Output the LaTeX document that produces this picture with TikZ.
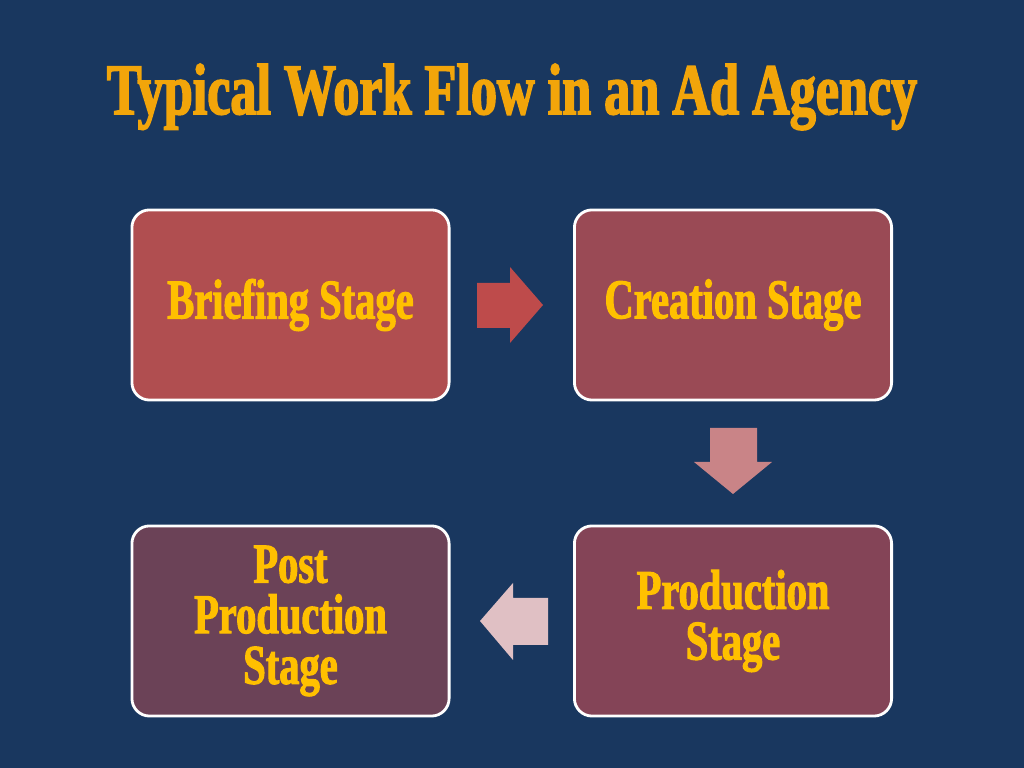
\documentclass[tikz,border=0pt]{standalone}
\usepackage{fontspec}
\newfontfamily\headfont[FakeStretch=0.72,FakeBold=2.2]{Liberation Serif}
\newfontfamily\stagefont[FakeStretch=0.72,FakeBold=1.8]{Liberation Serif}
\definecolor{bgblue}{HTML}{19375F}
\definecolor{titleorange}{HTML}{F2A50A}
\definecolor{textyellow}{HTML}{FFC000}
\definecolor{briefred}{HTML}{B04E50}
\definecolor{createred}{HTML}{9A4A55}
\definecolor{prodred}{HTML}{844457}
\definecolor{postred}{HTML}{6B4257}
\definecolor{arrowone}{HTML}{BE4B4B}
\definecolor{arrowtwo}{HTML}{C98487}
\definecolor{arrowthree}{HTML}{E0C0C4}

\begin{document}
\begin{tikzpicture}[x=0.01cm,y=-0.01cm,
    stage/.style={draw=white,line width=0.8pt,rounded corners=5pt,
      minimum width=3.17cm,minimum height=1.9cm,
      align=center,text=textyellow,font=\stagefont\bfseries\fontsize{16}{14.4}\selectfont}]
            \fill[bgblue] (0,0) rectangle (1024,768);

            \node[text=titleorange,font=\headfont\bfseries\fontsize{20.6}{24}\selectfont] (title) at (512,97) {Typical Work Flow in an Ad Agency};

            \node[stage,fill=briefred] (brief) at (290.5,305) {Briefing Stage};
            \node[stage,fill=createred] (create) at (733,305) {Creation Stage};
            \node[stage,fill=prodred] (prod) at (733,621) {Production\\Stage};
            \node[stage,fill=postred] (post) at (290.5,621) {Post\\Production\\Stage};

            % block arrows between the stages
            \fill[arrowone] (477,283) -- (510,283) -- (510,267) -- (543,305) -- (510,343) -- (510,328) -- (477,328) -- cycle;
            \fill[arrowtwo] (710,428) -- (757,428) -- (757,462) -- (772,462) -- (733,494) -- (694,462) -- (710,462) -- cycle;
            \fill[arrowthree] (548,598) -- (513,598) -- (513,583) -- (480,621) -- (513,660) -- (513,645) -- (548,645) -- cycle;
        \end{tikzpicture}
\end{document}
